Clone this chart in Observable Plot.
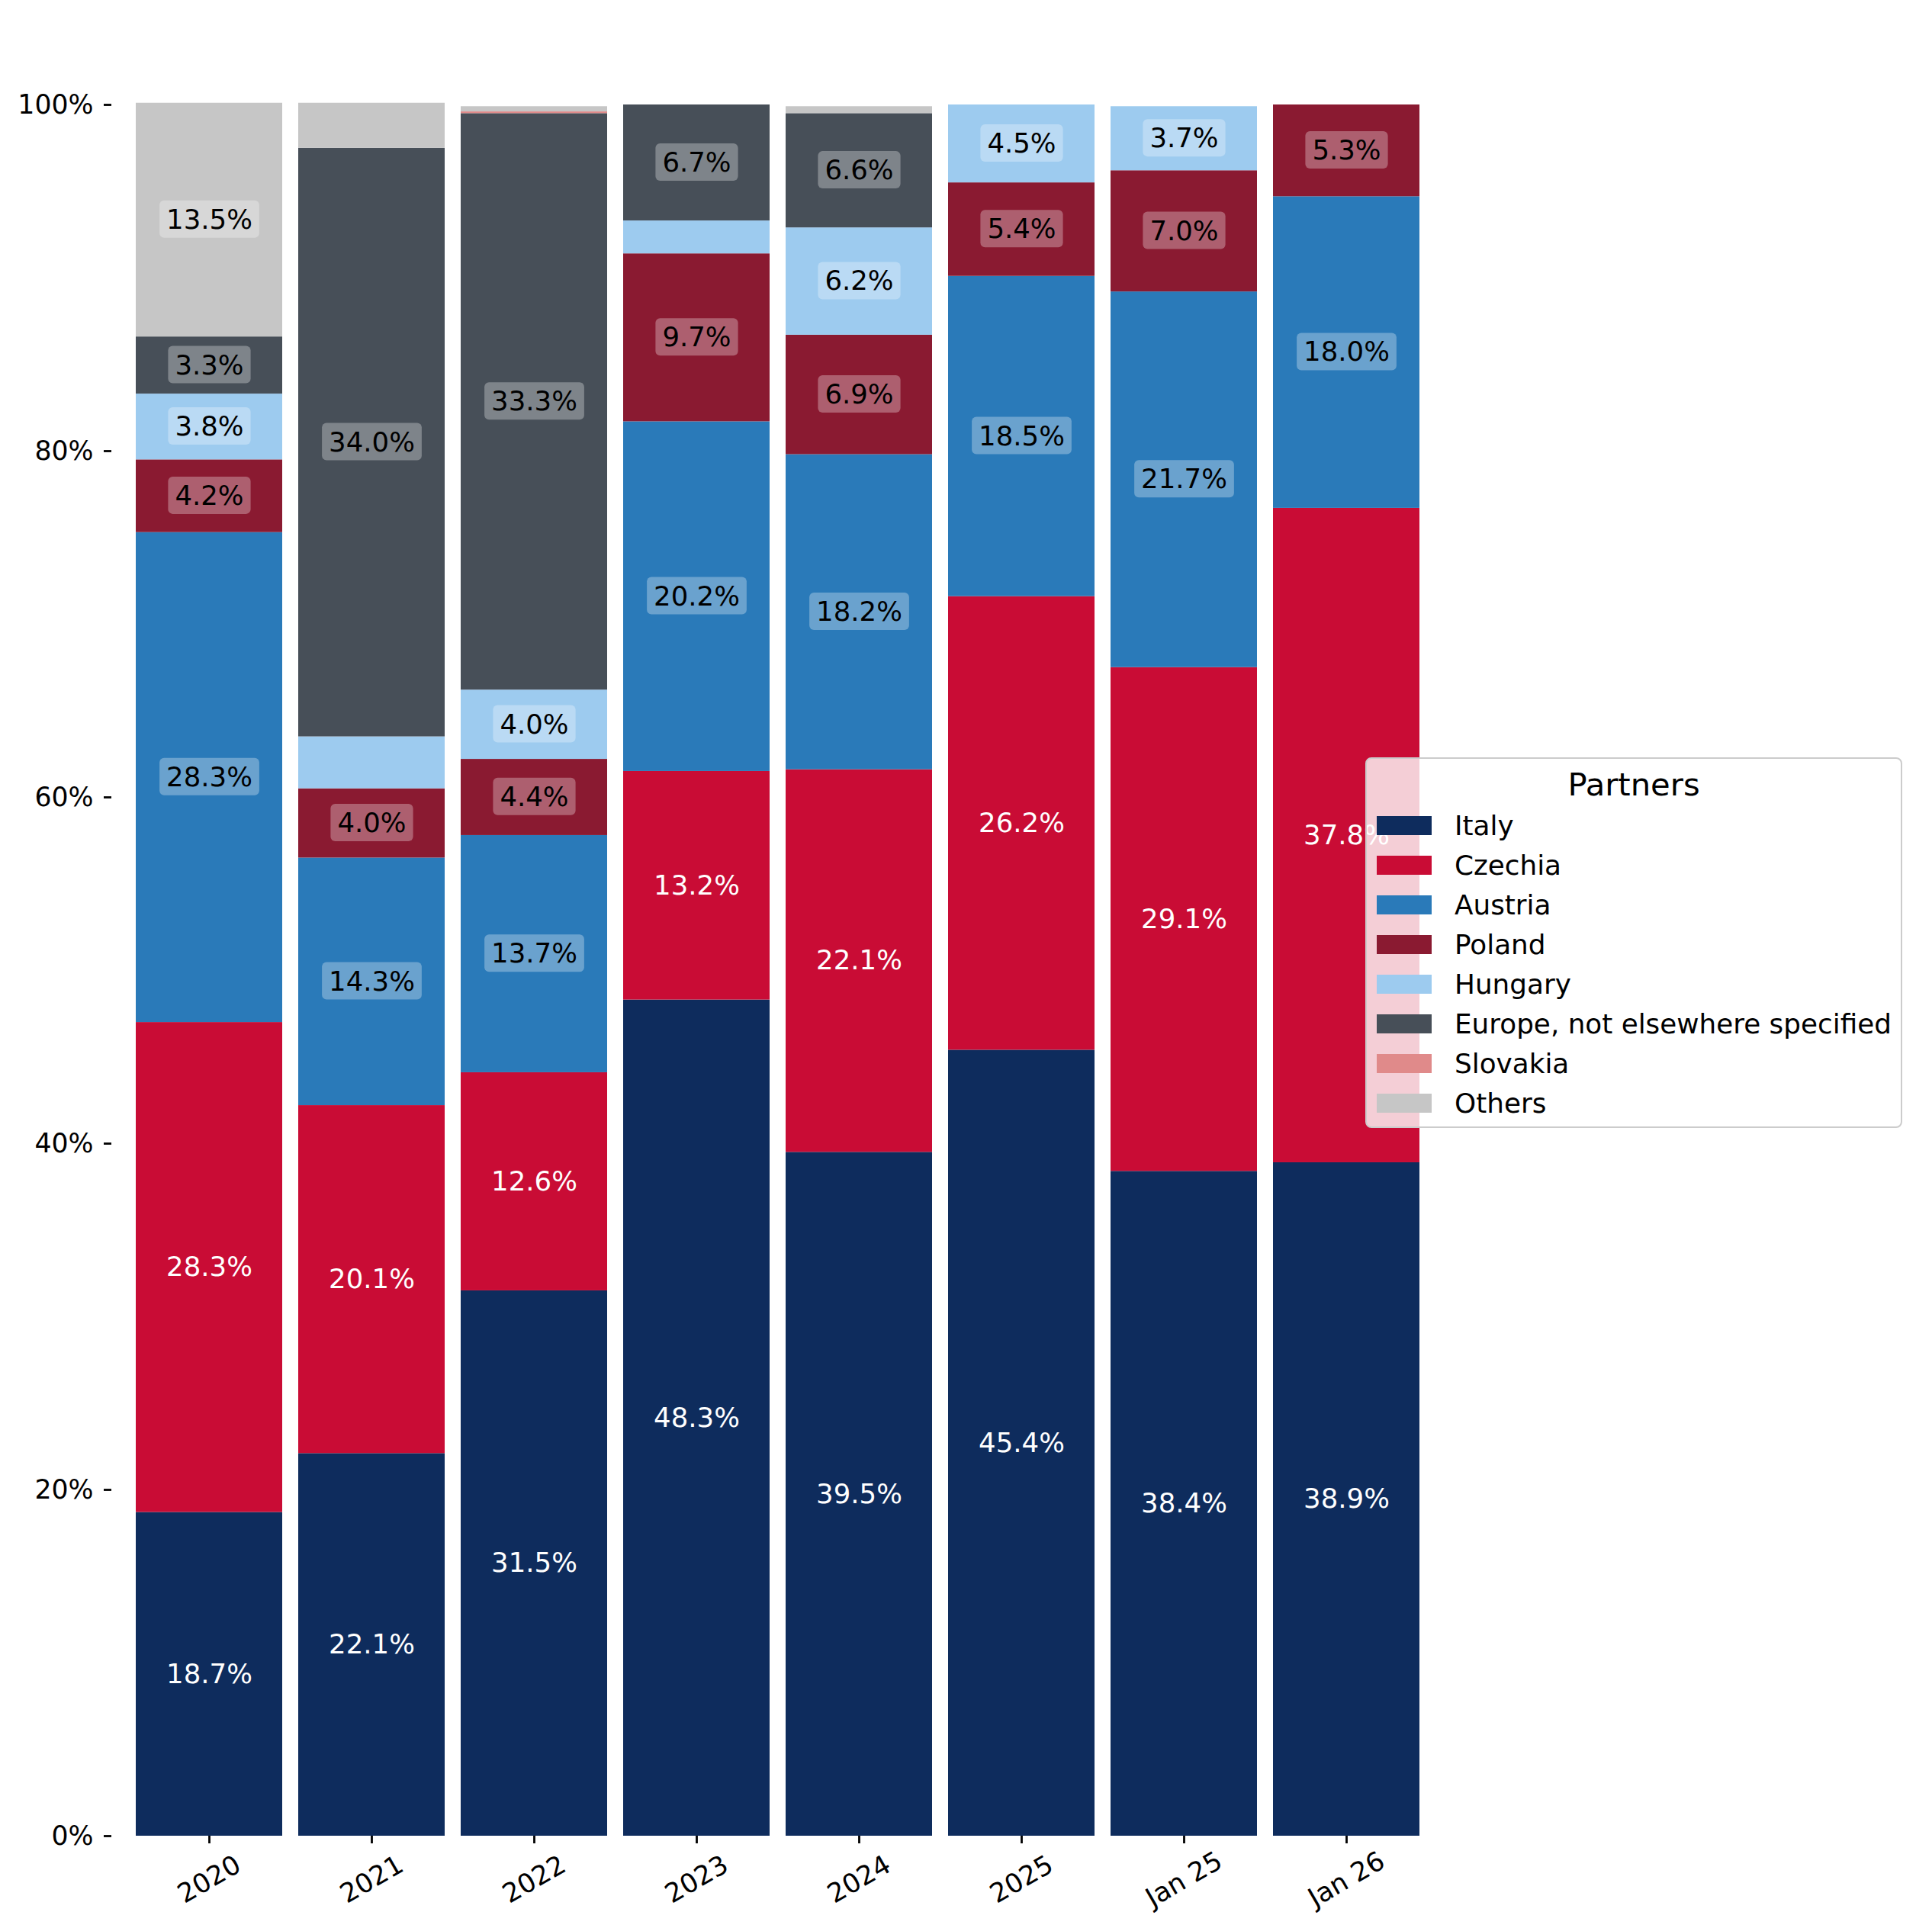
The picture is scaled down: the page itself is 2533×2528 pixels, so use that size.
<!DOCTYPE html>
<html>
<head>
<meta charset="utf-8">
<script src="https://cdn.jsdelivr.net/npm/d3@7"></script>
<script src="https://cdn.jsdelivr.net/npm/@observablehq/plot@0.6"></script>
<style>
  html, body { margin: 0; padding: 0; background: #ffffff; }
  #wrap { position: relative; width: 2533px; height: 2528px; font-family: "DejaVu Sans", sans-serif; }
  #legend {
    position: absolute; left: 1790px; top: 993px; width: 704px; height: 486px;
    box-sizing: border-box; border: 2.8px solid #cccccc; border-radius: 8px;
    background: rgba(255, 255, 255, 0.8); color: #000;
  }
  #legend .title { position: absolute; left: 0; right: 0; top: 8px; text-align: center; font-size: 41.7px; line-height: 52px; }
  #legend .row { position: absolute; left: 13px; height: 52px; display: flex; align-items: center; font-size: 35.8px; white-space: nowrap; }
  #legend .sw { width: 72px; height: 25px; margin-right: 30px; flex: none; }
</style>
</head>
<body>
<div id="wrap"></div>
<script>
// Periods on the x axis
const periods = ["2020", "2021", "2022", "2023", "2024", "2025", "Jan 25", "Jan 26"];

// Partners in stacking order (bottom to top) and their colours
const partners = ["Italy", "Czechia", "Austria", "Poland", "Hungary",
  "Europe, not elsewhere specified", "Slovakia", "Others"];
const partnerColors = ["#0e2c5d", "#c90c35", "#2a7ab9", "#8a1a31", "#9dcbef",
  "#474f58", "#e08a8a", "#c6c6c6"];

// Share of each partner per period, in percent
const italy     = [18.7, 22.1, 31.5, 48.3, 39.5, 45.4, 38.4, 38.9];
const czechia   = [28.3, 20.1, 12.6, 13.2, 22.1, 26.2, 29.1, 37.8];
const austria   = [28.3, 14.3, 13.7, 20.2, 18.2, 18.5, 21.7, 18.0];
const poland    = [4.2, 4.0, 4.4, 9.7, 6.9, 5.4, 7.0, 5.3];
const hungary   = [3.8, 3.0, 4.0, 1.9, 6.2, 4.5, 3.7, 0];
const europeNes = [3.3, 34.0, 33.3, 6.7, 6.6, 0, 0, 0];
const slovakia  = [0, 0, 0.1, 0, 0, 0, 0, 0];
const others    = [13.5, 2.6, 0.3, 0, 0.4, 0, 0, 0];

// Y axis ticks
const yTicks = [0, 20, 40, 60, 80, 100];

// Partners whose labels are drawn in white without a box
const whiteLabelPartners = ["Italy", "Czechia"];

const series = [italy, czechia, austria, poland, hungary, europeNes, slovakia, others];
const data = periods.flatMap((period, i) =>
  partners.map((partner, j) => ({period, partner, value: series[j][i]}))
);

const fmt = d => d.value.toFixed(1) + "%";
const shown = d => d.value > 3;
const labelSize = 35.5;

const plot = Plot.plot({
  width: 2533,
  height: 2528,
  marginLeft: 146,
  marginRight: 640,
  marginTop: 137,
  marginBottom: 121,
  style: {fontFamily: "DejaVu Sans, sans-serif", fontSize: "34.7px", background: "white", color: "black"},
  x: {domain: periods, paddingInner: 0.1, paddingOuter: 0.1486},
  y: {domain: [0, 100]},
  color: {domain: partners, range: partnerColors},
  marks: [
    Plot.barY(data, Plot.stackY({x: "period", y: "value", fill: "partner", order: partners})),
    Plot.text(data, Plot.stackY({
      x: "period", y: "value", z: "partner", order: partners,
      text: d => (shown(d) && whiteLabelPartners.includes(d.partner)) ? fmt(d) : null,
      fill: "white", fontSize: labelSize
    })),
    Plot.text(data, Plot.stackY({
      x: "period", y: "value", z: "partner", order: partners,
      text: d => (shown(d) && !whiteLabelPartners.includes(d.partner)) ? fmt(d) : null,
      fill: "black", fontSize: labelSize, className: "boxed-label"
    })),
    Plot.axisY({ticks: yTicks, tickFormat: d => d + "%", tickSize: 10, tickPadding: 14, strokeWidth: 2.8, label: null}),
    Plot.axisX({tickRotate: -30, textAnchor: "middle", lineAnchor: "middle", tickSize: 10, tickPadding: 47, strokeWidth: 2.8, label: null})
  ]
});

const wrap = document.getElementById("wrap");
wrap.appendChild(plot);

// Rounded translucent boxes behind the dark labels
d3.select(plot).selectAll(".boxed-label text").each(function () {
  if (!this.textContent) return;
  const bb = this.getBBox();
  const padX = 9, padY = 4;
  d3.select(this.parentNode)
    .insert("rect", () => this)
    .attr("transform", this.getAttribute("transform"))
    .attr("x", bb.x - padX)
    .attr("y", bb.y - padY)
    .attr("width", bb.width + 2 * padX)
    .attr("height", bb.height + 2 * padY)
    .attr("rx", 6)
    .attr("fill", "white")
    .attr("fill-opacity", 0.3);
});

// Legend
const color = plot.scale("color");
const legend = document.createElement("div");
legend.id = "legend";
const title = document.createElement("div");
title.className = "title";
title.textContent = "Partners";
legend.appendChild(title);
partners.forEach((name, i) => {
  const row = document.createElement("div");
  row.className = "row";
  row.style.top = (61 + i * 52.1) + "px";
  const sw = document.createElement("div");
  sw.className = "sw";
  sw.style.background = color.apply(name);
  const label = document.createElement("span");
  label.textContent = name;
  row.appendChild(sw);
  row.appendChild(label);
  legend.appendChild(row);
});
wrap.appendChild(legend);
</script>
</body>
</html>
